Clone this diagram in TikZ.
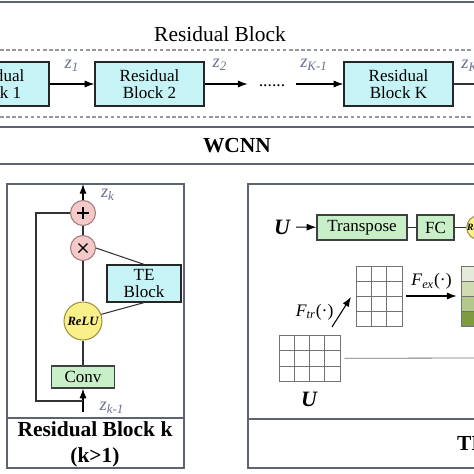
\documentclass[tikz,border=0pt]{standalone}
\usepackage{fontspec}
\setmainfont{Liberation Serif}
\usetikzlibrary{arrows.meta}
\definecolor{blockcyan}{HTML}{C6F3F5}
\definecolor{convgreen}{HTML}{C8EFC8}
\definecolor{oppink}{HTML}{F6C9C9}
\definecolor{opedge}{HTML}{A07878}
\definecolor{reluyellow}{HTML}{F9F08A}
\definecolor{reluedge}{HTML}{A09040}
\definecolor{zgray}{HTML}{6A7094}
\definecolor{framegray}{HTML}{5C6472}
\definecolor{shadeA}{HTML}{E5EBD8}
\definecolor{shadeB}{HTML}{CFDCB2}
\definecolor{shadeC}{HTML}{B3C98B}
\definecolor{shadeD}{HTML}{7E9B44}
\newcommand{\zlab}[1]{\textit{z}\textsubscript{\textit{#1}}}

\begin{document}
\begin{tikzpicture}[x=0.02cm, y=-0.02cm,
		resblock/.style={draw=black!85, line width=0.7pt, fill=blockcyan, minimum width=2.18cm, minimum height=0.88cm, align=center, inner sep=0pt, font=\fontsize{9.7}{10}\selectfont},
		greenbox/.style={draw=black!75, line width=0.7pt, fill=convgreen, minimum height=0.5cm, inner sep=0pt, font=\fontsize{9.7}{11}\selectfont},
		opcircle/.style={circle, draw=opedge, line width=0.6pt, fill=oppink, minimum size=0.5cm, inner sep=0pt},
		relucircle/.style={circle, draw=reluedge, line width=0.6pt, fill=reluyellow, inner sep=0pt, font=\fontsize{7.2}{8}\selectfont\bfseries\itshape},
		zlabel/.style={text=zgray, font=\fontsize{10.5}{12}\selectfont},
		flow/.style={-{Latex[length=5.5pt,width=4pt]}, line width=0.6pt},
		wire/.style={line width=0.6pt, draw=black!80},
		panelframe/.style={draw=framegray, line width=0.9pt},
		paneltitle/.style={font=\fontsize{12.2}{14.7}\selectfont\bfseries},
		dashline/.style={draw=black!40, line width=0.6pt, dash pattern=on 2pt off 1.5pt},
		gridline/.style={draw=black!55, line width=0.45pt},
		boldu/.style={font=\fontsize{12.5}{14}\selectfont\bfseries\itshape},
	]
	\clip (0,0) rectangle (474,474);
	
	% WCNN strip
	\draw[panelframe] (0,2) -- (474,2);
	\node (rbtitle) at (220,34) {\fontsize{12.2}{14}\selectfont Residual Block};
	\draw[dashline] (0,50) -- (474,50);
	\draw[dashline] (0,117) -- (474,117);
	
	\node[resblock] (rb1) at (-5.5,84) {Residual\\Block 1};
	\node[resblock] (rb2) at (149.5,84) {Residual\\Block 2};
	\node[minimum width=0.96cm, inner sep=0pt] (dots) at (272,86) {......};
	\node[resblock] (rbK) at (398.5,84) {Residual\\Block K};
	\coordinate (zout) at (480,84);
	
	\draw[flow] (rb1) -- (rb2);
	\draw[flow] (rb2.east) -- (rb2.east -| dots.west);
	\draw[flow] (dots.east |- rbK.west) -- (rbK.west);
	\draw[wire] (rbK.east) -- (zout);
	
	\node[zlabel] (z1) at (72,66) {\zlab{1}};
	\node[zlabel] (z2) at (220,65) {\zlab{2}};
	\node[zlabel] (zKm) at (314,65) {\zlab{K-1}};
	\node[zlabel] (zK) at (470,66) {\zlab{K}};
	
	\draw[panelframe] (0,127) -- (474,127);
	\node[paneltitle] (wcnn) at (237,146) {WCNN};
	\draw[panelframe] (0,164) -- (474,164);
	
	% residual block k
	\draw[panelframe] (7,184) rectangle (184,468);
	\draw[panelframe] (7,418) -- (184,418);
	\node[paneltitle, align=center] (rbktitle) at (95,444) {Residual Block k\\(k>1)};
	
	\node[opcircle] (plus) at (83,213) {};
	\node[opcircle] (times) at (83,248) {};
	\node[relucircle, minimum size=0.76cm] (relu) at (83,321) {ReLU};
	\node[resblock, minimum width=1.48cm, minimum height=0.74cm] (te) at (144,283.5) {TE\\Block};
	\node[greenbox, minimum width=1.26cm, minimum height=0.44cm] (conv) at (83,377) {Conv};
	\draw[line width=0.7pt] (plus.center) ++(-6,0) -- ++(12,0);
	\draw[line width=0.7pt] (plus.center) ++(0,-6) -- ++(0,12);
	\draw[line width=0.7pt] (times.center) ++(-4.5,-4.5) -- ++(9,9);
	\draw[line width=0.7pt] (times.center) ++(-4.5,4.5) -- ++(9,-9);
	
	\coordinate (zkin) at (83,412);
	\coordinate (skip) at (83,401);
	\coordinate (skipcorner) at (36,401);
	\coordinate (zkout) at (83,184);
	
	\draw[flow] (zkin) -- (conv);
	\draw[wire] (conv) -- (relu);
	\draw[wire] (relu) -- (times);
	\draw[wire] (times) -- (plus);
	\draw[flow] (plus) -- (zkout);
	\draw[wire] (skip) -- (skipcorner) |- (plus.west);
	\draw[wire] (times.east) -- (te.north);
	\draw[wire] (relu.20) -- (te.south);
	
	\node[zlabel] (zk) at (108,195) {\zlab{k}};
	\node[zlabel] (zkm) at (112,408) {\zlab{k-1}};
	
	% TE block
	\draw[panelframe] (248,184) rectangle (490,468);
	\draw[panelframe] (248,419) -- (490,419);
	\node[paneltitle, anchor=west] (tetitle) at (451,443) {TE Block};
	
	\node[boldu] (uin) at (282,227) {U};
	\node[greenbox, minimum width=1.8cm] (trans) at (362,227.5) {Transpose};
	\node[greenbox, minimum width=0.74cm] (fc) at (435.5,227.5) {FC};
	\node[relucircle, minimum size=0.48cm, font=\fontsize{5.5}{6}\selectfont\bfseries\itshape] (relu2) at (479,227.5) {ReLU};
	\draw[flow] (uin) -- (trans);
	\draw[wire] (trans) -- (fc);
	\draw[wire] (fc) -- (relu2);
	
	\node[draw=black!55, line width=0.45pt, minimum width=0.92cm, minimum height=1.2cm, inner sep=0pt] (midgrid) at (379,296) {};
	\foreach \x in {371.3,386.7} \draw[gridline] (\x,266) -- (\x,326);
	\foreach \y in {281,296,311} \draw[gridline] (356,\y) -- (402,\y);
	
	\foreach \c [count=\i from 0] in {shadeA,shadeB,shadeC,shadeD}
		\draw[gridline, fill=\c] (461,266+15*\i) rectangle (490,281+15*\i);
	\node[minimum width=0.58cm, minimum height=1.2cm, inner sep=0pt] (wcol) at (475.5,296) {};
	
	\node[draw=black!55, line width=0.45pt, minimum width=1.22cm, minimum height=0.93cm, inner sep=0pt] (ugrid) at (309.5,358.25) {};
	\foreach \x in {294.25,309.5,324.75} \draw[gridline] (\x,335) -- (\x,381.5);
	\foreach \y in {350.5,366} \draw[gridline] (279,\y) -- (340,\y);
	\node[boldu] (ulabel) at (309,399) {U};
	
	\coordinate (trstart) at (332,327);
	\coordinate (trend) at (351,297);
	\coordinate (uline) at (490,358);
	
	\draw[flow] (trstart) -- (trend) node[midway, left, xshift=-1pt] {\textit{F}\textsubscript{\textit{tr}}(·)};
	\draw[flow] ([xshift=0.08cm]midgrid.east) -- ([xshift=-0.08cm]wcol.west) node[midway, above] {\textit{F}\textsubscript{\textit{ex}}(·)};
	\draw[gridline] ([xshift=0.08cm]ugrid.east) -- (uline);
\end{tikzpicture}
\end{document}
